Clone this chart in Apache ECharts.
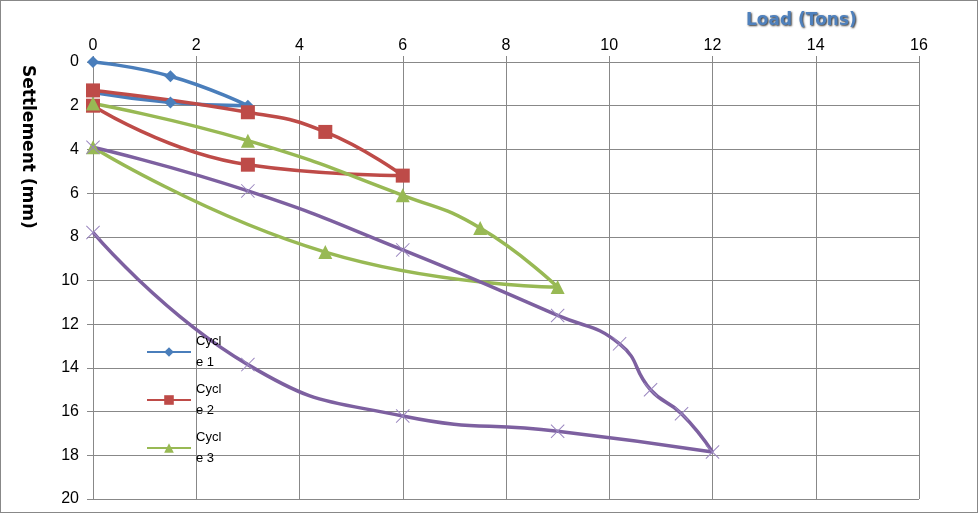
<!DOCTYPE html>
<html>
<head>
<meta charset="utf-8">
<script src="https://cdn.jsdelivr.net/npm/echarts@6/dist/echarts.min.js"></script>
<style>
html,body{margin:0;padding:0;background:#fff;}
#chart{width:978px;height:513px;box-sizing:border-box;border:1px solid #888;}
</style>
</head>
<body>
<div id="chart"></div>
<script>
// load (tons), settlement (mm)
var cycle1 = [[0,0],[1.5,0.65],[3,2.0],[1.5,1.85],[0,1.4]];
var cycle2 = [[0,1.3],[3,2.3],[4.5,3.2],[6,5.2],[3,4.7],[0,2.0]];
var cycle3 = [[0,1.9],[3,3.6],[6,6.1],[7.5,7.6],[9,10.3],[4.5,8.7],[0,3.9]];
var cycle4 = [[0,3.9],[3,5.9],[6,8.6],[9,11.6],[10.2,12.9],[10.8,15.0],[11.4,16.1],[12,17.85],
              [9,16.9],[6,16.2],[3,13.85],[0,7.8]];
var names = ['Cycle 1','Cycle 2','Cycle 3','Cycle 4'];

var cross = 'path://M0,1L1,0L10,9L19,0L20,1L11,10L20,19L19,20L10,11L1,20L0,19L9,10Z';

function line(name, data, color, symbol, size) {
    return {
        name: name, type: 'line', data: data, smooth: 0.5,
        symbol: symbol, symbolSize: size,
        lineStyle: {color: color, width: 3.5},
        itemStyle: {color: color}
    };
}

var chart = echarts.init(document.getElementById('chart'));
chart.setOption({
    animation: false,
    grid: {left: 92, right: 58, top: 61, bottom: 13},
    title: {
        text: 'Load (Tons)', left: 740, top: 6,
        textStyle: {color: '#4f81bd', fontSize: 17, fontWeight: 'bold', fontFamily: 'DejaVu Sans',
            textShadowColor: '#333', textShadowBlur: 2, textShadowOffsetX: 1, textShadowOffsetY: 1}
    },
    graphic: [{
        type: 'text', left: 18, top: 64, rotation: -Math.PI / 2,
        style: {text: 'Settlement (mm)', fontSize: 17, fontWeight: 'bold', fill: '#000', fontFamily: 'DejaVu Sans'}
    }],
    legend: {
        data: names.slice(0, 3), orient: 'vertical', left: 140, top: 325, itemGap: 6,
        itemWidth: 44, itemHeight: 12,
        formatter: function (n) { return 'Cycl\ne ' + n.slice(-1); },
        textStyle: {fontSize: 13, fontFamily: 'Liberation Sans', lineHeight: 21, color: '#000'}
    },
    xAxis: {
        type: 'value', position: 'top', min: 0, max: 16, interval: 2,
        axisLine: {show: true, lineStyle: {color: '#888'}}, axisTick: {show: true, length: 6, lineStyle: {color: '#888'}},
        axisLabel: {fontSize: 16, color: '#000', fontFamily: 'Liberation Sans'},
        splitLine: {lineStyle: {color: '#888', width: 1}}
    },
    yAxis: {
        type: 'value', inverse: true, min: 0, max: 20, interval: 2,
        axisLine: {show: true, lineStyle: {color: '#888'}}, axisTick: {show: true, length: 6, lineStyle: {color: '#888'}},
        axisLabel: {fontSize: 16, color: '#000', fontFamily: 'Liberation Sans', margin: 14},
        splitLine: {lineStyle: {color: '#888', width: 1}}
    },
    series: [
        line(names[0], cycle1, '#4a7ebb', 'diamond', 12),
        line(names[1], cycle2, '#be4b48', 'rect', 14),
        line(names[2], cycle3, '#98b954', 'triangle', 14),
        line(names[3], cycle4, '#9b87c0', cross, 14)
    ]
});
chart.setOption({series: [{}, {}, {}, {lineStyle: {color: '#7d60a0'}}]});
</script>
</body>
</html>
